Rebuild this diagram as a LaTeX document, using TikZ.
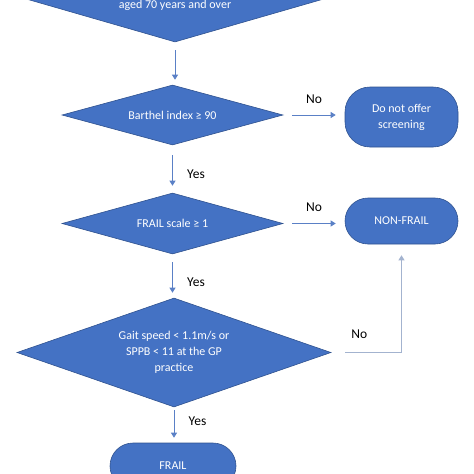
\documentclass[tikz,border=0pt]{standalone}
\usepackage{fontspec}
\setmainfont{Carlito}
\usetikzlibrary{shapes.geometric,arrows.meta,positioning}
\definecolor{boxblue}{HTML}{4472C4}
\definecolor{boxedge}{HTML}{2F528F}
\definecolor{linkblue}{HTML}{5A80C6}
\definecolor{linkgray}{HTML}{A3B3CF}

\tikzset{
  decision/.style={diamond,draw=boxedge,fill=boxblue,line width=.6pt,inner sep=0pt,text=white,align=center},
  endbox/.style={rectangle,draw=boxedge,fill=boxblue,line width=.6pt,inner sep=0pt,text=white,align=center},
  link/.style={linkblue,line width=.8pt,-{Triangle[length=5pt,width=6pt]}},
  answer/.style={text=black,font=\fontsize{13.5}{16}\selectfont}
}

\begin{document}
\begin{tikzpicture}[x=1pt,y=-1pt,font=\fontsize{12}{16}\selectfont]
      \useasboundingbox (0,0) rectangle (474,474);
      \clip (0,0) rectangle (474,474);

      %decisions
      \node[decision,aspect=3.46,minimum width=360pt,minimum height=104pt] (start) at (175,-10) {};
      \node[text=white] (starttext) at (175,5) {aged 70 years and over};
      \node[decision,aspect=3.68,minimum width=221pt,minimum height=60pt] (barthel) at (172.5,115) {Barthel index ≥ 90};
      \node[decision,aspect=3.62,minimum width=221pt,minimum height=61pt] (frailscale) at (172.5,223.5) {FRAIL scale ≥ 1};
      \node[decision,aspect=2.88,minimum width=314pt,minimum height=109pt] (gait) at (174,352.5) {Gait speed < 1.1m/s or\\SPPB < 11 at the GP\\practice};

      %outcomes
      \node[endbox,rounded corners=25pt,minimum width=113pt,minimum height=60pt] (noscreen) at (401.5,117) {Do not offer\\screening};
      \node[endbox,rounded corners=23pt,minimum width=113pt,minimum height=46pt] (nonfrail) at (401.5,221) {NON-FRAIL};
      \node[endbox,rounded corners=23pt,minimum width=126pt,minimum height=46pt] (frail) at (173,466) {FRAIL};

      %arrows
      \draw[link,shorten <=8pt,shorten >=5pt] (start.south) -- (start.south |- barthel.north);
      \draw[link,shorten <=9pt,shorten >=9pt] (barthel.east) -- (barthel.east -| noscreen.west)
            node[answer,midway,above=8pt] (no1) {No};
      \draw[link,shorten <=10pt,shorten >=7pt] (barthel.south) -- (barthel.south |- frailscale.north)
            node[answer,pos=.62,right=11pt] (yes1) {Yes};
      \draw[link,shorten <=9pt,shorten >=9pt] (frailscale.east) -- (frailscale.east -| nonfrail.west)
            node[answer,midway,above=8pt] (no2) {No};
      \draw[link,shorten <=8pt,shorten >=5pt] (frailscale.south) -- (frailscale.south |- gait.north)
            node[answer,pos=.65,right=11pt] (yes2) {Yes};
      \draw[link,shorten <=3pt,shorten >=5pt] (gait.south) -- (gait.south |- frail.north)
            node[answer,pos=.4,right=11pt] (yes3) {Yes};
      \draw[link,draw=linkgray,shorten <=14pt,shorten >=11pt] (gait.east) -| (nonfrail.south)
            node[answer,pos=.2,above=10pt] (no3) {No};

\end{tikzpicture}
\end{document}
